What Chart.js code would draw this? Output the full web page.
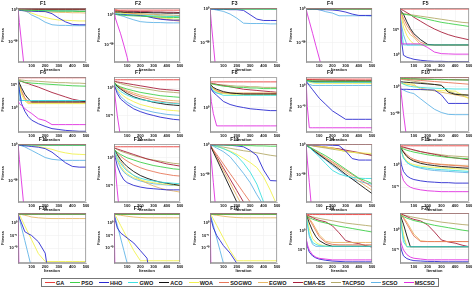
<!DOCTYPE html>
<html><head><meta charset="utf-8">
<script src="https://cdn.jsdelivr.net/npm/chart.js@4.4.0/dist/chart.umd.min.js"></script>
<style>
html,body{margin:0;padding:0;background:#fff;width:474px;height:289px;overflow:hidden;font-family:"Liberation Sans",Arial,sans-serif}
.cell{position:absolute}
#legend{position:absolute;left:41px;top:278px;width:398px;height:9px;border:1px solid #777;display:flex;align-items:center;justify-content:space-between;padding:0 3px;box-sizing:border-box;font:bold 5.5px "Liberation Sans",Arial,sans-serif;color:#111}
#legend span.it{display:flex;align-items:center;white-space:nowrap}
#legend i{display:inline-block;width:10px;height:1px;margin-right:1px}
</style></head><body>
<div id="legend"></div>
<script>
const seriesNames = ['GA','PSO','HHO','GWO','ACO','WOA','SOGWO','EGWO','CMA-ES','TACPSO','SCSO','MSCSO'];
const seriesColors = ['#e8403c','#3fd04a','#2a2ad0','#3fe0e0','#111111','#f2f250','#e8785a','#e8b868','#a8203c','#b4aa6a','#62b4e6','#e030e0'];
const iterations = [1,10,25,50,75,100,150,200,250,300,350,400,450,500];
const xTicks = [100,200,300,400,500];

const F1 = [
[3,3,3,3,3,3,3,3,3,3,3,3,3,3],
[1,0,0,-1,-1,-2,-2,-3,-3,-4,-4,-4,-5,-5],
[0,-1,-2,-3,-4,-4,-5,-5,-12,-26,-38,-46,-47,-47],
[1,0,0,0,-1,-1,-2,-2,-3,-3,-3,-3,-4,-4],
[2,2,2,2,2,2,2,2,2,2,2,2,2,2],
[0,0,-1,-3,-6,-10,-18,-24,-29,-32,-33,-34,-35,-35],
[1,1,0,0,-1,-1,-2,-2,-3,-3,-3,-3,-4,-4],
[1,0,0,-1,-2,-3,-5,-6,-7,-8,-8,-9,-9,-10],
[4,4,4,4,4,4,4,4,4,4,4,4,4,4],
[2,2,2,1,1,1,1,0,0,0,0,0,0,0],
[0,0,-1,-3,-8,-16,-26,-39,-47,-49,-49,-50,-50,-50],
[0,-40,-100,-200,-300,-300,-300,-300,-300,-300,-300,-300,-300,-300]];
const F2 = [
[16,16,16,16,16,16,16,16,16,16,16,16,16,16],
[2,2,1,0,-1,-2,-3,-4,-5,-6,-7,-8,-8,-9],
[2,2,2,1,1,0,-1,-2,-5,-10,-14,-16,-17,-17],
[5,5,4,3,2,1,0,-1,-2,-3,-4,-5,-5,-6],
[10,10,10,10,9,9,9,8,8,7,7,6,6,6],
[8,8,7,6,5,4,2,0,-3,-6,-9,-11,-13,-15],
[19,18,16,13,10,8,4,0,-4,-8,-12,-15,-18,-20],
[12,12,11,10,9,8,6,4,2,0,-2,-4,-5,-6],
[14,14,14,13,13,12,12,11,11,10,10,9,9,8],
[8,8,8,7,7,6,5,4,3,2,1,0,-1,-2],
[2,2,1,-2,-5,-9,-16,-22,-24,-25,-25,-26,-26,-26],
[19,-10,-30,-62,-100,-140,-250,-300,-300,-300,-300,-300,-300,-300]];
const F3 = [
[2,2,2,2,2,2,2,2,2,2,2,2,2,2],
[1,1,1,1,0,0,0,0,0,0,0,0,0,0],
[0,0,0,-1,-1,-1,-2,-2,-4,-17,-30,-34,-34,-34],
[0,0,0,0,0,0,0,0,0,0,0,0,0,0],
[1,1,1,1,1,1,1,1,1,1,1,1,1,1],
[2,2,2,2,2,2,2,2,2,2,2,2,2,2],
[1,1,1,1,1,1,1,1,1,1,1,1,1,1],
[1,1,1,1,1,1,1,1,1,1,1,1,1,1],
[2,2,2,2,2,2,2,2,2,2,2,2,2,2],
[2,2,2,2,2,2,2,2,2,2,2,2,2,2],
[0,0,-1,-3,-5,-7,-15,-27,-42,-43,-43,-43,-44,-44],
[0,-42,-105,-210,-300,-300,-300,-300,-300,-300,-300,-300,-300,-300]];
const F4 = [
[1,1,1,1,1,1,1,1,1,1,1,1,1,1],
[0,0,0,0,0,0,0,0,0,0,0,0,0,0],
[0,0,-1,-1,-1,-2,-2,-3,-5,-9,-15,-19,-19,-19],
[0,0,0,0,0,0,0,0,0,0,0,0,0,0],
[1,1,1,1,1,1,1,1,1,1,1,1,1,1],
[1,1,1,1,1,1,1,1,1,1,1,1,1,1],
[0,0,0,0,0,0,0,0,0,0,0,0,0,0],
[1,1,1,1,1,1,1,1,1,1,1,1,1,1],
[1,1,1,1,1,1,1,1,1,1,1,1,1,1],
[1,1,1,1,1,1,1,1,1,1,1,1,1,1],
[0,0,0,-1,-1,-2,-8,-12,-20,-20,-20,-20,-20,-21],
[0,-15,-36,-72,-109,-145,-218,-300,-300,-300,-300,-300,-300,-300]];
const F5 = [
[9,9,9,9,9,9,9,9,9,9,9,9,9,9],
[8.2,8.1,8,7.9,7.8,7.6,7.3,7,6.7,6.4,6.2,6,5.8,5.6],
[8.5,3,0,-0.4,-0.6,-0.8,-1,-1.13,-1.2,-1.2,-1.25,-1.25,-1.27,-1.27],
[8.5,5,2,2,2,2,2,2,2,2,2,2,2,2],
[8.9,8.5,8,6.5,5.2,4.2,3,2.1,2,2,2,2,2,2],
[8.5,7.5,5.5,3.8,2.8,2.2,2,2,2,2,2,2,2,2],
[8.8,8.2,7.2,5.8,4.8,3.8,2.5,2,2,2,2,2,2,2],
[8.5,8,6.5,5,4,3.5,2,2,2,2,2,2,2,2],
[9,8.9,8.7,8.3,7.9,7.4,6.6,5.8,5.1,4.5,4,3.6,3.3,3],
[8.2,8.2,8.1,8,7.9,7.8,7.6,7.4,7.2,7,6.8,6.6,6.4,6.3],
[8.5,6,4,2,2,2,2,2,2,2,2,2,2,2],
[8.5,2.2,2.2,2.2,2.2,2.2,2.2,1.5,0.6,0.3,0.25,0.2,0.2,0.2]];
const F6 = [
[6.7,6.7,6.7,6.7,6.7,6.7,6.7,6.7,6.7,6.7,6.7,6.7,6.7,6.7],
[6.1,6,5.9,5.7,5.6,5.5,5.4,5.3,5.2,5.1,5,4.9,4.85,4.8],
[6.1,4,1,-0.8,-2,-2.8,-3.6,-4.2,-4.7,-4.9,-5.1,-5.2,-5.3,-5.3],
[6.1,3.5,1.6,1.6,1.6,1.6,1.6,1.6,1.6,1.6,1.6,1.6,1.6,1.6],
[6.1,5.5,4.5,3,2,1.3,1.3,1.3,1.3,1.3,1.3,1.3,1.3,1.3],
[6.1,5,3,1.5,0.9,0.9,0.9,0.9,0.9,0.9,0.9,0.9,0.9,0.9],
[6.1,5.2,3.8,2.2,1.3,1.2,1.2,1.2,1.2,1.2,1.2,1.2,1.2,1.2],
[6.1,5.2,3.5,2,1,1,1,1,1,1,1,1,1,1],
[6.1,6,5.9,5.6,5.4,5.1,4.6,4,3.4,2.9,2.4,1.9,1.6,1.3],
[6.3,6.3,6.2,6.1,6,6,5.9,5.8,5.7,5.6,5.6,5.5,5.5,5.4],
[5.5,1.6,1.6,1.6,1.6,1.6,1.6,1.6,1.6,1.6,1.6,1.6,1.6,1.6],
[1.5,0.9,0.5,-0.2,-0.8,-1.3,-2.5,-2.9,-3.8,-3.8,-3.8,-3.8,-3.8,-3.8]];
const F7 = [
[1.5,1.5,1.5,1.5,1.5,1.5,1.5,1.5,1.5,1.5,1.5,1.5,1.5,1.5],
[1,0.8,0.5,0.2,0,-0.2,-0.5,-0.8,-1,-1.2,-1.4,-1.5,-1.6,-1.7],
[0.5,0,-1,-2,-2.5,-3,-3.8,-4.3,-4.7,-5,-5.3,-5.5,-5.7,-5.8],
[1,0.5,0,-0.6,-1,-1.3,-1.8,-2.1,-2.3,-2.5,-2.6,-2.7,-2.8,-2.9],
[1,0.7,0.3,-0.2,-0.6,-1,-1.6,-2,-2.3,-2.6,-2.8,-3,-3.1,-3.2],
[1,0.5,-0.3,-1,-1.5,-1.9,-2.5,-3,-3.3,-3.6,-3.8,-4,-4.1,-4.2],
[1,0.8,0.4,0,-0.4,-0.7,-1.2,-1.6,-1.9,-2.2,-2.4,-2.6,-2.7,-2.8],
[1,0.8,0.5,0.1,-0.2,-0.5,-0.9,-1.3,-1.6,-1.8,-2,-2.2,-2.3,-2.4],
[1.2,1.2,1.1,1,0.9,0.8,0.6,0.4,0.2,0,-0.2,-0.3,-0.4,-0.5],
[1.2,1.1,1,0.8,0.6,0.5,0.2,0,-0.2,-0.4,-0.6,-0.7,-0.8,-0.9],
[0.8,0.2,-0.6,-1.5,-2.1,-2.6,-3.3,-3.8,-4.1,-4.4,-4.6,-4.8,-4.9,-5],
[0.5,-2,-5,-9,-12,-12,-12,-12,-12,-12,-12,-12,-12,-12]];
const F8 = [
[4.2,4.2,4.2,4.2,4.2,4.2,4.2,4.2,4.2,4.2,4.2,4.2,4.2,4.2],
[4,3.9,3.8,3.7,3.6,3.5,3.4,3.3,3.3,3.2,3.2,3.1,3.1,3.1],
[3.5,3,2.5,2,1.5,1,0.5,0.2,0,-0.2,-0.3,-0.4,-0.5,-0.5],
[3.8,3.3,2.8,2.4,2.2,2,2,2,2,2,2,2,2,2],
[3.9,3.6,3.3,3,2.8,2.6,2.4,2.3,2.2,2.2,2.2,2.2,2.2,2.2],
[3.8,3.4,3,2.6,2.4,2.3,2.2,2.1,2.1,2.1,2.1,2.1,2.1,2.1],
[3.9,3.5,3.1,2.7,2.5,2.4,2.3,2.3,2.3,2.3,2.3,2.3,2.3,2.3],
[3.9,3.6,3.2,2.8,2.6,2.5,2.4,2.4,2.4,2.4,2.4,2.4,2.4,2.4],
[4,4,3.9,3.8,3.7,3.6,3.4,3.2,3,2.9,2.8,2.7,2.6,2.5],
[4,3.9,3.9,3.8,3.7,3.7,3.6,3.5,3.5,3.4,3.4,3.3,3.3,3.3],
[3.5,3,2.6,2.4,2.3,2.3,2.3,2.3,2.3,2.3,2.3,2.3,2.3,2.3],
[3,1,-1,-3,-3,-3,-3,-3,-3,-3,-3,-3,-3,-3]];
const F9 = [
[3,3,3,3,3,3,3,3,3,3,3,3,3,3],
[2.5,2.4,2.3,2.2,2.1,2.1,2,2,2,2,2,2,2,2],
[2,1,0,-2,-4,-6,-9,-12,-14,-16,-16,-16,-16,-16],
[2.5,2,1.8,1.6,1.5,1.5,1.5,1.5,1.5,1.5,1.5,1.5,1.5,1.5],
[2.5,2.2,2,1.8,1.7,1.7,1.7,1.7,1.7,1.7,1.7,1.7,1.7,1.7],
[2.5,2,1.5,1.2,1,1,1,1,1,1,1,1,1,1],
[2.6,2.3,2,1.9,1.8,1.8,1.8,1.8,1.8,1.8,1.8,1.8,1.8,1.8],
[2.6,2.4,2.2,2,1.9,1.9,1.9,1.9,1.9,1.9,1.9,1.9,1.9,1.9],
[2.8,2.8,2.7,2.7,2.6,2.6,2.5,2.5,2.4,2.4,2.4,2.3,2.3,2.3],
[2.8,2.7,2.7,2.6,2.6,2.5,2.5,2.4,2.4,2.4,2.3,2.3,2.3,2.3],
[2.4,1.5,0.5,0,0,0,0,0,0,0,0,0,0,0],
[2,-10,-20,-20,-20,-20,-20,-20,-20,-20,-20,-20,-20,-20]];
const F10 = [
[35,35,35,35,35,35,35,35,35,35,35,35,35,35],
[32,32,31,31,30,30,29,28,28,27,27,26,26,25],
[-9,-9,-9,-9,-10,-10,-10,-11,-12,-30,-62,-62,-62,-62],
[20,15,10,5,2,0,-2,-4,-5,-6,-7,-8,-8,-8],
[19,19,18,17,16,15,13,11,9,6,-20,-28,-30,-31],
[12,12,12,11,11,10,-10,-12,-13,-14,-15,-16,-30,-45],
[30,30,29,28,27,26,24,22,20,18,16,14,12,10],
[15,14,12,10,8,5,-5,-10,-15,-20,-25,-30,-35,-40],
[31,31,31,30,30,30,29,29,28,28,27,27,26,26],
[28,28,27,25,23,21,17,13,9,5,-15,-25,-28,-31],
[-6,-8,-12,-18,-22,-25,-45,-65,-84,-96,-103,-104,-104,-104],
[25,-30,-100,-200,-300,-300,-300,-300,-300,-300,-300,-300,-300,-300]];
const F11 = [
[2,2,2,2,2,2,2,2,2,2,2,2,2,2],
[1,1,1,1,1,1,1,0,0,0,0,0,0,0],
[0,0,-1,-2,-3,-4,-6,-10,-20,-35,-50,-60,-62,-62],
[0,0,0,0,0,0,0,0,0,0,0,0,0,0],
[1,1,1,1,1,1,1,1,1,1,1,1,1,1],
[1,1,0,0,-1,-2,-4,-8,-12,-18,-22,-25,-26,-27],
[1,1,1,1,1,1,1,1,1,1,1,1,1,1],
[1,1,1,1,0,0,0,0,0,0,0,0,0,0],
[2,2,2,2,2,2,2,2,2,2,2,2,2,2],
[2,2,2,2,2,2,2,2,2,2,2,2,2,2],
[0,0,-2,-5,-10,-15,-25,-35,-40,-42,-43,-43,-43,-43],
[0,-40,-100,-200,-300,-300,-300,-300,-300,-300,-300,-300,-300,-300]];
const F12 = [
[2,2,2,2,2,2,2,2,2,2,2,2,2,2],
[1.5,1.3,1,0.6,0.3,0,-0.4,-0.8,-1.1,-1.4,-1.6,-1.8,-2,-2.1],
[1,0,-1.5,-3,-4,-4.5,-5,-5.3,-5.5,-5.6,-5.7,-5.8,-5.8,-5.8],
[1.5,1,0,-1,-1.8,-2.4,-3.2,-3.7,-4,-4.2,-4.4,-4.5,-4.6,-4.7],
[1.5,1.2,0.6,-0.3,-1,-1.6,-2.5,-3.2,-3.7,-4.1,-4.4,-4.6,-4.8,-5],
[1.5,0.8,-0.3,-1.5,-2.3,-2.9,-3.6,-4,-4.3,-4.5,-4.7,-4.8,-4.9,-5],
[1.5,1.3,0.9,0.3,-0.2,-0.6,-1.3,-1.8,-2.2,-2.5,-2.8,-3,-3.2,-3.3],
[1.5,1.2,0.5,-0.6,-1.5,-2.2,-3.2,-4,-4.6,-5.1,-5.5,-5.8,-6,-6.2],
[1.8,1.7,1.6,1.4,1.2,1,0.6,0.2,-0.2,-0.5,-0.8,-1.1,-1.3,-1.5],
[1.8,1.7,1.5,1.2,1,0.8,0.4,0.1,-0.2,-0.4,-0.6,-0.8,-1,-1.1],
[1.2,0.5,-0.5,-1.8,-2.6,-3.1,-3.8,-4.2,-4.5,-4.7,-4.8,-4.9,-5,-5],
[0.5,-2,-6,-12,-12,-12,-12,-12,-12,-12,-12,-12,-12,-12]];
const F13 = [
[2,2,2,2,2,2,2,2,2,2,2,2,2,2],
[1,1,1,0,0,0,-1,-1,-2,-2,-3,-3,-4,-4],
[0,0,0,0,0,0,-1,-3,-6,-18,-35,-83,-118,-119],
[0,0,-2,-5,-8,-12,-22,-36,-60,-90,-130,-189,-250,-300],
[0,-9,-24,-47,-71,-95,-142,-189,-240,-300,-300,-300,-300,-300],
[0,0,-2,-5,-8,-12,-20,-31,-44,-58,-75,-106,-150,-200],
[0,-6,-16,-31,-47,-63,-95,-126,-158,-189,-230,-300,-300,-300],
[0,-8,-21,-42,-63,-84,-126,-168,-210,-252,-300,-300,-300,-300],
[0,-8,-19,-38,-57,-76,-113,-151,-189,-230,-300,-300,-300,-300],
[0,0,-2,-4,-6,-7,-11,-15,-19,-22,-26,-30,-34,-37],
[0,-1,-4,-10,-16,-22,-39,-66,-94,-125,-165,-200,-300,-300],
[0,-50,-125,-250,-300,-300,-300,-300,-300,-300,-300,-300,-300,-300]];
const F14 = [
[2,2,2,2,2,2,2,2,2,2,2,2,2,2],
[0,-2,-6,-12,-18,-24,-36,-50,-65,-80,-95,-110,-118,-128],
[0,0,0,0,0,0,0,-1,-2,-20,-45,-50,-50,-50],
[0,-3,-8,-18,-28,-39,-62,-84,-96,-103,-107,-110,-111,-111],
[0,-3,-8,-16,-24,-32,-48,-64,-80,-97,-113,-129,-145,-161],
[0,0,-1,-2,-3,-4,-7,-10,-16,-22,-24,-26,-27,-28],
[0,-3,-7,-14,-21,-28,-42,-56,-70,-84,-98,-112,-125,-139],
[0,-3,-8,-15,-23,-30,-45,-60,-75,-90,-105,-120,-135,-150],
[0,0,-1,-2,-3,-4,-7,-10,-13,-17,-21,-25,-30,-35],
[0,0,-1,-3,-5,-7,-10,-14,-17,-21,-24,-27,-30,-33],
[0,-3,-8,-18,-26,-34,-50,-68,-85,-100,-112,-120,-126,-130],
[0,-50,-125,-250,-300,-300,-300,-300,-300,-300,-300,-300,-300,-300]];
const F15 = [
[4.2,4.2,4.2,4.2,4.2,4.2,4.2,4.2,4.2,4.2,4.2,4.2,4.2,4.2],
[3.8,3.7,3.5,3.2,3,2.8,2.5,2.2,2,1.8,1.6,1.5,1.4,1.3],
[2,0,-1.5,-2.5,-3,-3.3,-3.6,-3.8,-3.9,-4,-4,-4.1,-4.1,-4.1],
[4,3,1.5,0.5,0,-0.3,-0.6,-0.8,-1,-1.1,-1.2,-1.3,-1.4,-1.5],
[4,3.5,2.8,1.8,1.2,0.8,0.3,0,-0.2,-0.4,-0.5,-0.6,-0.7,-0.8],
[4,3,1.8,0.8,0.3,0,-0.3,-0.5,-0.6,-0.7,-0.8,-0.9,-1,-1],
[4,3.6,3,2.2,1.6,1.2,0.7,0.4,0.2,0,-0.1,-0.2,-0.3,-0.4],
[4,3.5,2.7,1.8,1.3,1,0.6,0.4,0.2,0.1,0,-0.1,-0.2,-0.3],
[4.1,4,3.9,3.7,3.5,3.3,2.9,2.6,2.3,2,1.7,1.5,1.3,1.1],
[4,3.9,3.8,3.6,3.4,3.2,2.9,2.6,2.4,2.2,2,1.9,1.8,1.7],
[4,3,1.6,0.5,0,-0.4,-0.8,-1.1,-1.3,-1.4,-1.5,-1.6,-1.7,-1.8],
[0,-2,-3.5,-4.5,-5,-5.3,-5.6,-5.8,-5.9,-6,-6,-6,-6,-6]];
const F16 = [
[3.6,3.6,3.6,3.6,3.6,3.6,3.6,3.6,3.6,3.6,3.6,3.6,3.6,3.6],
[3.4,3.4,3.4,3.4,3.4,3.4,3.4,3.4,3.4,3.4,3.4,3.4,3.4,3.4],
[3.3,2,0,-3.5,-4.3,-5,-7.5,-12,-30,-30,-30,-30,-30,-30],
[3.5,3.5,3.5,3.5,3.5,3.5,3.5,3.5,3.5,3.5,3.5,3.5,3.5,3.5],
[3.6,3.6,3.6,3.6,3.6,3.6,3.6,3.6,3.6,3.6,3.6,3.6,3.6,3.6],
[3.6,3.3,1.6,-1.2,-3.9,-6.7,-12.2,-15.3,-15.3,-15.3,-15.3,-15.3,-15.3,-15.3],
[3.5,3.5,3.5,3.5,3.5,3.5,3.5,3.5,3.5,3.5,3.5,3.5,3.5,3.5],
[3.6,3.5,3.3,3,2.7,2.3,2,1.8,1.7,1.7,1.7,1.7,1.7,1.7],
[3.7,3.7,3.7,3.7,3.7,3.7,3.7,3.7,3.7,3.7,3.7,3.7,3.7,3.7],
[3.4,3.4,3.4,3.4,3.4,3.4,3.4,3.4,3.4,3.4,3.4,3.4,3.4,3.4],
[3.6,1.7,-1.6,-7,-12.4,-18,-30,-30,-30,-30,-30,-30,-30,-30],
[3.6,-30,-30,-30,-30,-30,-30,-30,-30,-30,-30,-30,-30,-30]];
const F17 = [
[3.6,3.6,3.6,3.6,3.6,3.6,3.6,3.6,3.6,3.6,3.6,3.6,3.6,3.6],
[3.4,3.4,3.3,3.3,3.3,3.3,3.3,3.3,3.3,3.3,3.3,3.3,3.3,3.3],
[3.3,1,-2,-4,-5,-6,-8,-11,-14,-30,-30,-30,-30,-30],
[3.5,3.5,3.5,3.5,3.5,3.5,3.5,3.5,3.5,3.5,3.5,3.5,3.5,3.5],
[3.6,3.6,3.6,3.6,3.6,3.6,3.6,3.6,3.6,3.6,3.6,3.6,3.6,3.6],
[3.6,3,1.5,-1,-3.5,-6,-11,-15,-15,-15,-15,-15,-15,-15],
[3.5,3.5,3.5,3.5,3.5,3.5,3.5,3.5,3.5,3.5,3.5,3.5,3.5,3.5],
[3.5,3.4,3.2,3,2.8,2.6,2.3,2.1,2,2,2,2,2,2],
[3.7,3.7,3.7,3.7,3.7,3.7,3.7,3.7,3.7,3.7,3.7,3.7,3.7,3.7],
[3.4,3.4,3.4,3.4,3.4,3.4,3.4,3.4,3.4,3.4,3.4,3.4,3.4,3.4],
[3.6,2,-1,-6,-11,-16,-30,-30,-30,-30,-30,-30,-30,-30],
[3.6,-30,-30,-30,-30,-30,-30,-30,-30,-30,-30,-30,-30,-30]];
const F18 = [
[3.6,3.6,3.6,3.6,3.6,3.6,3.6,3.6,3.6,3.6,3.6,3.6,3.6,3.6],
[3.4,3.4,3.3,3.3,3.3,3.3,3.3,3.3,3.3,3.3,3.3,3.3,3.3,3.3],
[3.3,1,-2,-5,-7,-9,-12,-16,-30,-30,-30,-30,-30,-30],
[3.5,3.5,3.5,3.5,3.5,3.5,3.5,3.5,3.5,3.5,3.5,3.5,3.5,3.5],
[3.6,3.6,3.6,3.6,3.6,3.6,3.6,3.6,3.6,3.6,3.6,3.6,3.6,3.6],
[3.6,3,1.5,-1,-3.5,-6,-11,-15,-15,-15,-15,-15,-15,-15],
[3.5,3.5,3.5,3.5,3.5,3.5,3.5,3.5,3.5,3.5,3.5,3.5,3.5,3.5],
[3.5,3.4,3.2,3,2.8,2.6,2.3,2.1,2,2,2,2,2,2],
[3.7,3.7,3.7,3.7,3.7,3.7,3.7,3.7,3.7,3.7,3.7,3.7,3.7,3.7],
[3.4,3.4,3.4,3.4,3.4,3.4,3.4,3.4,3.4,3.4,3.4,3.4,3.4,3.4],
[3.6,2,-1,-6,-11,-16,-30,-30,-30,-30,-30,-30,-30,-30],
[3.6,-30,-30,-30,-30,-30,-30,-30,-30,-30,-30,-30,-30,-30]];
const F19 = [
[4.2,4.2,4.2,4.2,4.2,4.2,4.2,4.2,4.2,4.2,4.2,4.2,4.2,4.2],
[3.7,3.6,3.4,3,2.7,2.4,2,1.6,1.2,0.9,0.6,0.3,0,-0.3],
[-2,-4,-5.5,-6.5,-7,-7.3,-7.6,-7.8,-7.9,-8,-8,-8,-8,-8],
[4.2,2,-1,-3,-3.5,-3.8,-4,-4,-4,-4,-4,-4,-4,-4],
[4.2,3.5,2,0,-1.5,-2.5,-3.5,-4,-4,-4,-4,-4,-4,-4],
[4.2,3,0.5,-2,-3,-3.5,-4,-4,-4,-4,-4,-4,-4,-4],
[4.2,3.8,3,1.5,0,-1.5,-3,-3.5,-3.6,-3.6,-3.6,-3.6,-3.6,-3.6],
[4.2,3.9,3.2,2,0.5,-1,-2.7,-3,-3,-3,-3,-3,-3,-3],
[4.2,4,3.8,3.4,3,2.7,2.3,1.3,-0.5,-2.5,-3,-3.3,-3.8,-4.2],
[4,3.9,3.8,3.6,3.4,3.2,2.9,2.6,2.3,2,1.8,1.6,1.4,1.2],
[4.2,2,-1.5,-3.5,-4,-4,-4,-4,-4,-4,-4,-4,-4,-4],
[-2,-3.5,-5,-6.2,-6.8,-7.1,-7.3,-7.5,-7.5,-7.5,-7.5,-7.5,-7.5,-7.5]];
const F20 = [
[4.2,4.2,4.2,4.2,4.2,4.2,4.2,4.2,4.2,4.2,4.2,4.2,4.2,4.2],
[3.7,3.6,3.4,3,2.7,2.4,2,1.6,1.2,0.9,0.6,0.3,0,-0.25],
[-3.3,-5,-6.5,-7.2,-7.5,-7.7,-7.8,-7.9,-7.9,-8,-8,-8,-8,-8],
[4.2,1,-3,-4.2,-4.2,-4.2,-4.2,-4.2,-4.2,-4.2,-4.2,-4.2,-4.2,-4.2],
[4.2,3,1.5,-1.5,-4.2,-4.2,-4.2,-4.2,-4.2,-4.2,-4.2,-4.2,-4.2,-4.2],
[4.2,2,-1,-4.2,-4.2,-4.2,-4.2,-4.2,-4.2,-4.2,-4.2,-4.2,-4.2,-4.2],
[4.2,3.8,3,1.5,0,-1.5,-2.9,-2.9,-2.9,-2.9,-2.9,-2.9,-2.9,-2.9],
[4.2,3.9,3.2,2,0.5,-1,-2.7,-2.9,-2.9,-2.9,-2.9,-2.9,-2.9,-2.9],
[4.2,4,3.8,3.4,3,2.7,2.3,1.3,-0.5,-2.5,-3,-3.3,-3.8,-4.2],
[4,3.9,3.8,3.6,3.4,3.2,2.9,2.6,2.3,2,1.8,1.6,1.4,1.25],
[4.2,2,-2,-4.2,-4.2,-4.2,-4.2,-4.2,-4.2,-4.2,-4.2,-4.2,-4.2,-4.2],
[-2.1,-3.5,-5,-6.2,-6.8,-7.1,-7.3,-7.5,-7.5,-7.5,-7.5,-7.5,-7.5,-7.5]];

const panelNames = ['F1','F2','F3','F4','F5','F6','F7','F8','F9','F10','F11','F12','F13','F14','F15','F16','F17','F18','F19','F20'];
const panelData = [F1,F2,F3,F4,F5,F6,F7,F8,F9,F10,F11,F12,F13,F14,F15,F16,F17,F18,F19,F20];
const yMins = [-165,-155,-157,-157,-1.33,-5.46,-8,-4,-22,-169,-160,-8,-189,-189,-8.3,-15.9,-15.9,-15.9,-8.3,-8.3];
const yMaxs = [6,23,3,3,9.2,6.87,2,5,4,37,3,2.5,3.3,3.3,4.6,3.9,3.9,3.9,4.6,4.3];
const yTicks = [[0,-100],[0,-100],[0,-100],[0,-100],[5,0],[5,0],[0,-5],[0],[0,-10],[0,-100],[0,-100],[0,-5],[0,-100],[0,-100],[0,-5],[0,-5,-10],[0,-5,-10],[0,-5,-10],[0,-5],[0,-5]];

// layout (plot areas)
const colLeft = [18,114,210,306,400], colWidth = [68,66,67,66,69];
const rowTop = [8,77,144,213], rowHeight = [54,55,58,50];
const padL = 18, padT = 8, padB = 10, padR = 6;

const SUP = {'0':'⁰','1':'¹','2':'²','3':'³','4':'⁴','5':'⁵','6':'⁶','7':'⁷','8':'⁸','9':'⁹','-':'⁻'};
function sup(v){ return '10' + String(v).split('').map(c=>SUP[c]||c).join(''); }

const boxPlugin = { id:'box', afterDraw(c){ const a=c.chartArea, x=c.ctx; x.save(); x.strokeStyle='#8a8a8a'; x.lineWidth=0.7; x.strokeRect(a.left+0.5,a.top+0.5,a.right-a.left-1,a.bottom-a.top-1); x.restore(); } };

Chart.defaults.font.family = '"Liberation Sans", Arial, sans-serif';
Chart.defaults.color = '#111';

panelNames.forEach((name,i)=>{
  const col=i%5,row=Math.floor(i/5);
  const L=colLeft[col],W=colWidth[col],T=rowTop[row],H=rowHeight[row];
  const div=document.createElement('div'); div.className='cell';
  div.style.left=(L-padL)+'px'; div.style.top=(T-padT)+'px';
  const cv=document.createElement('canvas');
  cv.width=W+padL+padR; cv.height=H+padT+padB;
  cv.style.width=cv.width+'px'; cv.style.height=cv.height+'px';
  div.appendChild(cv); document.body.appendChild(div);
  const ticks=yTicks[i];
  new Chart(cv,{
    type:'line',
    data:{datasets:panelData[i].map((vals,k)=>({label:seriesNames[k],data:vals.map((v,j)=>({x:iterations[j],y:v})),borderColor:seriesColors[k],backgroundColor:seriesColors[k],borderWidth:0.9,pointRadius:0,tension:0,fill:false,order:k===11?-1:0}))},
    options:{responsive:false,animation:false,devicePixelRatio:1,
      layout:{padding:{left:0,right:padR,top:0,bottom:0}},
      plugins:{legend:{display:false},tooltip:{enabled:false},
        title:{display:true,text:name,font:{size:5,weight:'bold'},color:'#111',padding:{top:1,bottom:1}}},
      scales:{
        x:{type:'linear',min:0,max:500,
          afterBuildTicks:s=>{s.ticks=xTicks.map(v=>({value:v}));},
          ticks:{font:{size:4,weight:'bold'},padding:1,maxRotation:0,autoSkip:false},
          grid:{color:'#ececec',lineWidth:0.5,drawTicks:false},
          border:{color:'#8a8a8a',width:0.7},
          title:{display:true,text:'Iteration',font:{size:4,weight:'bold'},padding:{top:0,bottom:0}},
          afterFit:s=>{s.height=padB;s.paddingLeft=0;s.paddingRight=0;}},
        y:{type:'linear',min:yMins[i],max:yMaxs[i],
          afterBuildTicks:s=>{s.ticks=ticks.map(v=>({value:v}));},
          ticks:{font:{size:4,weight:'bold'},padding:1,callback:v=>sup(v),autoSkip:false},
          grid:{color:'#ececec',lineWidth:0.5,drawTicks:false},
          border:{color:'#8a8a8a',width:0.7},
          title:{display:true,text:'Fitness',font:{size:4,weight:'bold'},padding:{top:0,bottom:1}},
          afterFit:s=>{s.width=padL;s.paddingTop=0;s.paddingBottom=0;}}
      }},
    plugins:[boxPlugin]
  });
});

const lg=document.getElementById('legend');
seriesNames.forEach((n,k)=>{const s=document.createElement('span');s.className='it';s.innerHTML='<i style="background:'+seriesColors[k]+'"></i>'+n;lg.appendChild(s);});
</script>
</body></html>
